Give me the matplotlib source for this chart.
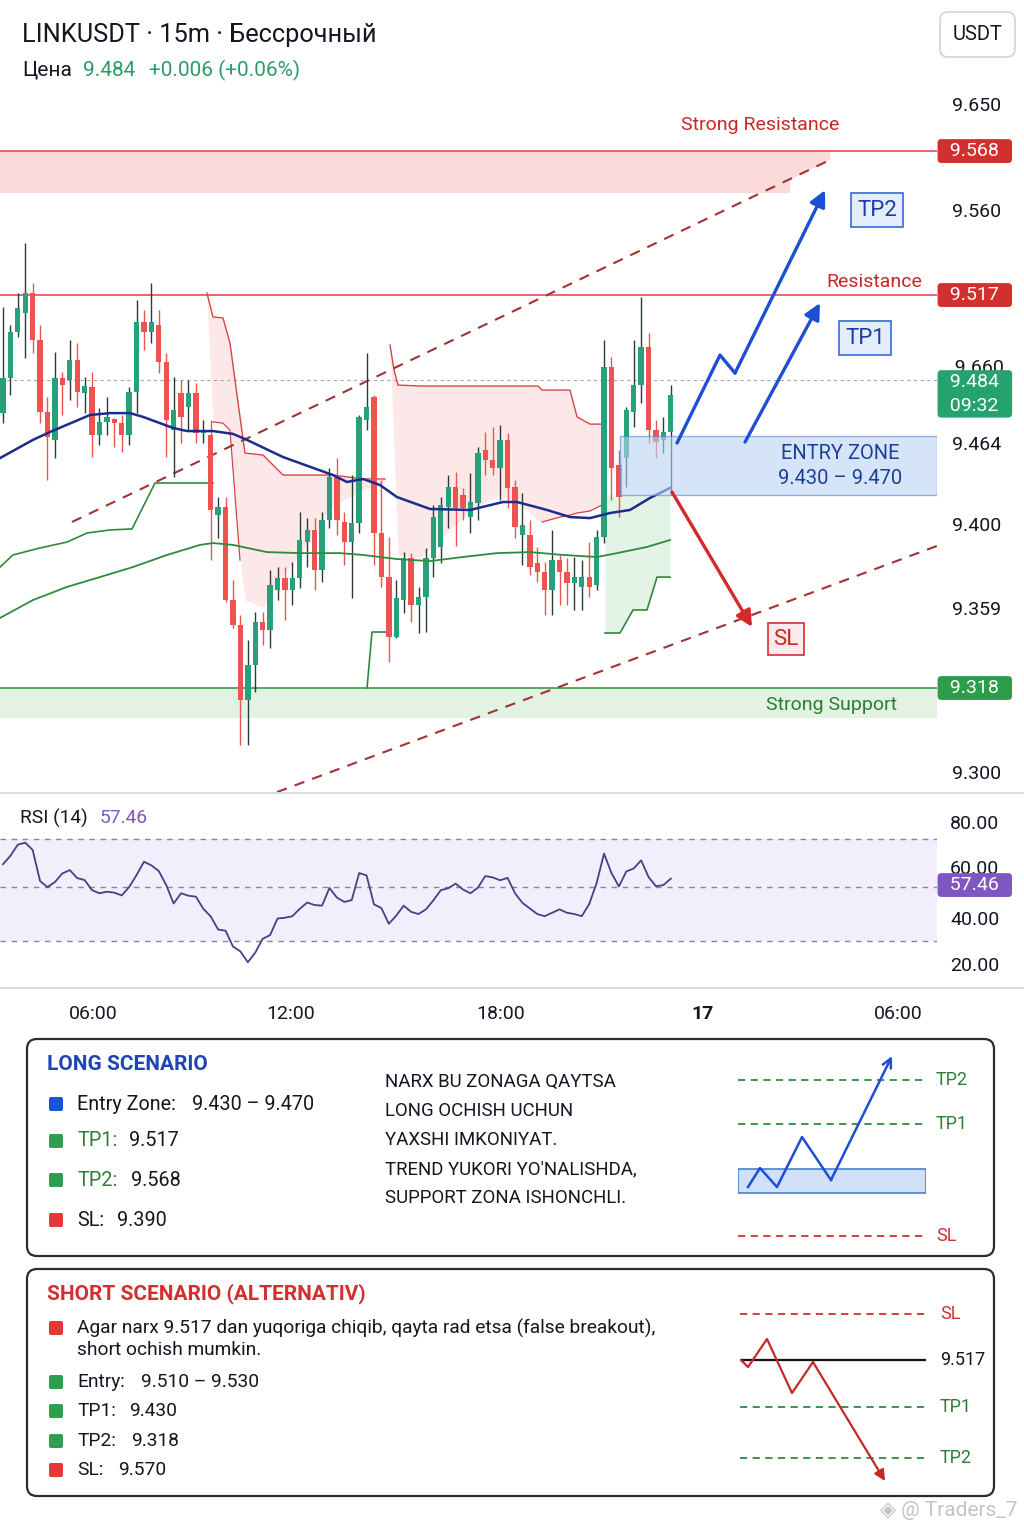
import numpy as np
import matplotlib
matplotlib.use("Agg")
import matplotlib.pyplot as plt
from matplotlib.patches import Rectangle, FancyBboxPatch

plt.rcParams['font.family'] = ['Roboto', 'DejaVu Sans']

# ---------------- data ----------------
# 15m candles, one per bar index
OPEN = [9.4735, 9.4848, 9.5026, 9.5100, 9.5180, 9.4995, 9.4738, 9.4650, 9.4848, 9.4840,
        9.4918, 9.4799, 9.4818, 9.4665, 9.4707, 9.4716, 9.4703, 9.4665, 9.4802, 9.5065,
        9.5026, 9.5054, 9.4910, 9.4681, 9.4799, 9.4754, 9.4799, 9.4672, 9.4665, 9.4071,
        9.4134, 9.3629, 9.3503, 9.3154, 9.3298, 9.3518, 9.3477, 9.3678, 9.3736, 9.3678,
        9.3736, 9.3912, 9.3971, 9.3776, 9.4032, 9.4371, 9.4016, 9.3912, 9.4008, 9.4713,
        9.4786, 9.3956, 9.3741, 9.3441, 9.3629, 9.3834, 9.3605, 9.3644, 9.3834, 9.3888,
        9.4134, 9.4292, 9.4229, 9.4055, 9.4166, 9.4585, 9.4506, 9.4443, 9.4650, 9.4292,
        9.3946, 9.3946, 9.3810, 9.3766, 9.3678, 9.3824, 9.3766, 9.3712, 9.3693, 9.3741,
        9.3702, 9.3937, 9.4891, 9.4466, 9.4521, 9.4738, 9.4824, 9.4968, 9.4681, 9.4650,
        9.4675]
HIGH = [9.5123, 9.5054, 9.5180, 9.5433, 9.5231, 9.5054, 9.4786, 9.4949, 9.4871, 9.4995,
        9.4984, 9.4852, 9.4871, 9.4751, 9.4786, 9.4719, 9.4729, 9.4818, 9.5151, 9.5112,
        9.5231, 9.5112, 9.4945, 9.4852, 9.4840, 9.4840, 9.4830, 9.4713, 9.4713, 9.4213,
        9.4213, 9.3727, 9.3554, 9.3426, 9.3570, 9.3570, 9.3776, 9.3790, 9.3790, 9.3815,
        9.4095, 9.4047, 9.4047, 9.4095, 9.4443, 9.4521, 9.4095, 9.4387, 9.4729, 9.4945,
        9.4792, 9.4348, 9.3937, 9.3727, 9.3863, 9.3858, 9.3693, 9.3883, 9.4150, 9.4213,
        9.4387, 9.4411, 9.4285, 9.4403, 9.4608, 9.4675, 9.4691, 9.4697, 9.4672, 9.4348,
        9.4245, 9.4032, 9.3888, 9.3815, 9.3971, 9.3849, 9.3834, 9.3839, 9.3824, 9.3912,
        9.3971, 9.4995, 9.4929, 9.4585, 9.4754, 9.4995, 9.5162, 9.5023, 9.4713, 9.4723,
        9.4824]
LOW = [9.4703, 9.4792, 9.5007, 9.4926, 9.4945, 9.4703, 9.4348, 9.4521, 9.4729, 9.4777,
       9.4754, 9.4735, 9.4529, 9.4624, 9.4665, 9.4608, 9.4569, 9.4624, 9.4735, 9.4957,
       9.4984, 9.4867, 9.4529, 9.4371, 9.4640, 9.4681, 9.4640, 9.4640, 9.3824, 9.3932,
       9.3619, 9.3487, 9.3058, 9.3058, 9.3171, 9.3400, 9.3385, 9.3629, 9.3529, 9.3605,
       9.3688, 9.3790, 9.3678, 9.3717, 9.3980, 9.3946, 9.3800, 9.3639, 9.3956, 9.4681,
       9.3800, 9.3693, 9.3313, 9.3436, 9.3564, 9.3518, 9.3462, 9.3467, 9.3741, 9.3810,
       9.3980, 9.3893, 9.4032, 9.3956, 9.4032, 9.4387, 9.4387, 9.4190, 9.4127, 9.3932,
       9.3800, 9.3751, 9.3717, 9.3554, 9.3554, 9.3605, 9.3605, 9.3580, 9.3580, 9.3644,
       9.3678, 9.3907, 9.4190, 9.4055, 9.4292, 9.4691, 9.4767, 9.4640, 9.4521, 9.4561,
       9.4229]
CLOSE = [9.4848, 9.5026, 9.5120, 9.5180, 9.4995, 9.4738, 9.4659, 9.4848, 9.4824, 9.4918,
         9.4802, 9.4821, 9.4665, 9.4707, 9.4723, 9.4703, 9.4665, 9.4802, 9.5065, 9.5026,
         9.5065, 9.4910, 9.4713, 9.4745, 9.4723, 9.4799, 9.4672, 9.4681, 9.4111, 9.4134,
         9.3629, 9.3503, 9.3154, 9.3298, 9.3518, 9.3477, 9.3702, 9.3736, 9.3678, 9.3736,
         9.3922, 9.3971, 9.3776, 9.4032, 9.4371, 9.4032, 9.3912, 9.4008, 9.4723, 9.4754,
         9.3956, 9.3741, 9.3441, 9.3639, 9.3834, 9.3605, 9.3644, 9.3834, 9.4055, 9.4150,
         9.4292, 9.4127, 9.4127, 9.4174, 9.4561, 9.4506, 9.4443, 9.4650, 9.4285, 9.3985,
         9.3995, 9.3790, 9.3766, 9.3678, 9.3824, 9.3766, 9.3712, 9.3741, 9.3741, 9.3693,
         9.3937, 9.4891, 9.4443, 9.4213, 9.4745, 9.4824, 9.4968, 9.4681, 9.4643, 9.4675,
         9.4792]

RSI = [61.0, 64.0, 68.0, 68.7, 66.1, 53.0, 50.0, 52.5, 56.8, 58.5,
       54.5, 53.5, 49.0, 48.0, 48.5, 48.2, 47.3, 50.0, 56.0, 61.9,
       60.6, 58.0, 51.0, 44.7, 48.0, 47.2, 46.9, 43.0, 40.5, 35.0,
       34.5, 27.6, 25.5, 20.8, 25.0, 31.0, 32.6, 39.8, 40.1, 40.6,
       43.0, 45.0, 44.2, 44.0, 49.7, 46.6, 45.2, 45.8, 57.0, 55.8,
       44.4, 43.2, 37.5, 40.8, 44.0, 42.0, 41.3, 42.8, 45.7, 49.0,
       49.6, 51.7, 49.2, 48.0, 49.8, 55.5, 54.8, 53.4, 54.6, 48.0,
       44.9, 43.1, 41.3, 40.6, 41.7, 42.8, 41.7, 41.3, 40.6, 44.5,
       52.0, 64.8, 57.0, 50.3, 57.8, 59.3, 62.4, 55.0, 50.4, 51.0,
       54.2]
RSI_LAST = 57.46

# moving averages / bands: (bar index, price)
MA_BLUE_X = [-0.4, 4.04, 6.33, 11.73, 14.42, 17.12, 18.87, 22.91, 24.80, 28.30, 31.00, 32.88,
             37.74, 44.47, 46.36, 48.52, 50.81, 53.10, 57.55, 62.94, 67.39, 69.27, 73.32,
             76.42, 79.11, 81.81, 84.50, 87.20, 89.89]
MA_BLUE = [9.4521, 9.4650, 9.4675, 9.4729, 9.4735, 9.4735, 9.4723, 9.4688, 9.4678, 9.4678,
           9.4669, 9.4650, 9.4529, 9.4387, 9.4332, 9.4356, 9.4308, 9.4213, 9.4119, 9.4111,
           9.4174, 9.4174, 9.4111, 9.4055, 9.4047, 9.4087, 9.4111, 9.4206, 9.4285]
MA_GREEN_X = [-0.4, 4.04, 8.63, 13.07, 17.52, 22.10, 26.55, 28.30, 31.00, 35.58, 40.03, 45.42,
              48.52, 53.10, 57.55, 61.99, 66.58, 71.02, 75.47, 80.05, 82.21, 86.79, 89.89]
MA_GREEN = [9.3539, 9.3629, 9.3693, 9.3741, 9.3790, 9.3849, 9.3898, 9.3907, 9.3898, 9.3863,
            9.3858, 9.3858, 9.3849, 9.3829, 9.3819, 9.3839, 9.3858, 9.3863, 9.3849, 9.3839,
            9.3854, 9.3888, 9.3922]

ST_GREEN_1_X = [-0.4, 1.35, 4.99, 8.63, 11.32, 14.42, 17.39, 20.49, 28.30]
ST_GREEN_1 = [9.3790, 9.3849, 9.3883, 9.3912, 9.3956, 9.3971, 9.3976, 9.4324, 9.4324]
ST_GREEN_2_X = [49.06, 49.73, 51.75]
ST_GREEN_2 = [9.3180, 9.3467, 9.3467]
ST_GREEN_3_X = [81.13, 83.15, 84.91, 86.79, 88.14, 89.89]
ST_GREEN_3 = [9.3462, 9.3462, 9.3580, 9.3580, 9.3741, 9.3741]
ST_GREEN_3_TOP = 9.4229

ST_RED_1_X = [27.49, 28.30, 29.65, 30.59, 31.94, 32.61, 35.04, 37.74, 40.03, 44.47, 48.52, 51.48]
ST_RED_1 = [9.5180, 9.5085, 9.5081, 9.4984, 9.4723, 9.4561, 9.4545, 9.4387, 9.4387, 9.4387,
            9.4356, 9.4356]
ST_RED_1_LOW = [9.5151, 9.4707, 9.4703, 9.4681, 9.3824, 9.3629, 9.3595, 9.3751, 9.3849,
                9.4150, 9.4269, 9.4332]
ST_RED_2_X = [52.16, 52.70, 53.23, 56.20, 58.89, 61.59, 64.29, 66.98, 69.68, 72.10, 72.64,
              75.07, 76.42, 77.36, 79.11, 80.73]
ST_RED_2 = [9.4976, 9.4879, 9.4824, 9.4821, 9.4821, 9.4821, 9.4821, 9.4821, 9.4821, 9.4821,
            9.4808, 9.4808, 9.4808, 9.4723, 9.4700, 9.4700]
ST_RED_2_LOW = [9.4957, 9.4585, 9.3849, 9.3834, 9.3922, 9.4032, 9.4150, 9.4229, 9.4150,
                9.4032, 9.4016, 9.4055, 9.4071, 9.4087, 9.4103, 9.4150]

# levels and drawings
STRONG_RES = 9.568
STRONG_RES_LOW = 9.5623
RESISTANCE = 9.517
SUPPORT = 9.318
SUPPORT_LOW = 9.3116
LAST_PRICE = 9.484
ENTRY_LOW, ENTRY_HIGH = 9.4229, 9.4662
ENTRY_START = 83.15
STRONG_RES_END = [111.46, 106.07]
STRONG_RES_EDGE = [9.5668, 9.5641]
UPPER_CH_X, UPPER_CH_Y = [9.30, 111.46], [9.4016, 9.5668]
LOWER_CH_X, LOWER_CH_Y = [36.93, 125.87], [9.2957, 9.3893]
TP2_ARROW_X, TP2_ARROW_Y = [90.84, 96.63, 98.65, 110.78], [9.464, 9.4937, 9.4867, 9.5627]
TP1_ARROW_X, TP1_ARROW_Y = [100.0, 110.1], [9.4643, 9.5139]
SL_ARROW_X, SL_ARROW_Y = [90.16, 100.94], [9.4253, 9.3493]

PLAIN_TICKS = [9.300, 9.359, 9.400, 9.464, 9.560, 9.650]
TIME_TICKS = [12.1, 38.8, 67.1, 94.3, 120.6]
TIME_LABELS = ['06:00', '12:00', '18:00', '17', '06:00']
RSI_TICKS = [80, 60, 40, 20]

# the reference price / rsi scales are not linear: value -> row in the picture
PRICE_LEVELS = [9.300, 9.318, 9.359, 9.400, 9.464, 9.484, 9.517, 9.560, 9.568, 9.650]
PRICE_ROWS = [772, 688, 608, 524, 443, 380, 295, 210, 151, 104]
RSI_LEVELS = [20, 30, 40, 50, 60, 70, 80]
RSI_ROWS = [964, 941, 918, 887, 867, 839, 822]

# scenario sketches
LONG_LEVELS = [9.390, 9.430, 9.470, 9.517, 9.568]
LONG_ROWS = [1236, 1193, 1169, 1124, 1080]
LONG_PATH_X = [1.0, 2.2, 3.9, 6.4, 9.3, 15.4]
LONG_PATH_Y = [9.440, 9.471, 9.440, 9.5034, 9.4517, 9.5958]
SHORT_LEVELS = [9.318, 9.430, 9.517, 9.570]
SHORT_ROWS = [1458, 1407, 1360, 1314]
SHORT_PATH_X = [0.1, 0.8, 2.7, 5.2, 7.3, 14.5]
SHORT_PATH_Y = [9.517, 9.504, 9.5412, 9.4559, 9.5133, 9.2675]

GREEN = '#26a17b'
RED = '#ef5350'
LINE_RED = '#e0403d'
DARK = '#131722'
BLUE = '#1d4fd6'

W, H = 1024, 1536
fig = plt.figure(figsize=(W / 100, H / 100), dpi=100)


def px_axes(x0, y0, x1, y1):
    return fig.add_axes([x0 / W, 1 - y1 / H, (x1 - x0) / W, (y1 - y0) / H])


def knot_scale(levels, rows):
    lv = np.asarray(levels, float)
    rw = -np.asarray(rows, float)
    s0 = (rw[1] - rw[0]) / (lv[1] - lv[0])
    s1 = (rw[-1] - rw[-2]) / (lv[-1] - lv[-2])
    lv = np.r_[lv[0] - 50, lv, lv[-1] + 50]
    rw = np.r_[rw[0] - 50 * s0, rw, rw[-1] + 50 * s1]
    return (lambda v: np.interp(v, lv, rw)), (lambda r: np.interp(r, rw, lv))


def bare(a):
    for s in a.spines.values():
        s.set_visible(False)


# ---------------- price panel ----------------
ax = px_axes(0, 88, 937, 793)
ax.set_yscale('function', functions=knot_scale(PRICE_LEVELS, PRICE_ROWS))
ax.set_xlim(-0.4, 125.87)
ax.set_ylim(9.2955, 9.678)
bare(ax)
ax.set_xticks([])
ax.yaxis.tick_right()
ax.set_yticks(PLAIN_TICKS, [f'{v:.3f}' for v in PLAIN_TICKS])
ax.tick_params(axis='y', length=0, pad=11, labelsize=14, labelcolor=DARK)

# zones
ax.fill([-0.4, STRONG_RES_END[0], STRONG_RES_END[0], STRONG_RES_END[1], STRONG_RES_END[1], -0.4],
        [STRONG_RES, STRONG_RES, STRONG_RES_EDGE[0], STRONG_RES_EDGE[1], STRONG_RES_LOW, STRONG_RES_LOW],
        color='#fcdada', lw=0, zorder=0.5)
ax.axhspan(SUPPORT_LOW, SUPPORT, color='#e2f3e4', lw=0, zorder=0.5)
ax.fill_between(ST_RED_1_X, ST_RED_1_LOW, ST_RED_1, color='#fbd9d9', alpha=0.6, lw=0, zorder=0.6)
ax.fill_between(ST_RED_2_X, ST_RED_2_LOW, ST_RED_2, color='#fbd9d9', alpha=0.6, lw=0, zorder=0.6)
ax.fill_between(ST_GREEN_3_X, ST_GREEN_3, ST_GREEN_3_TOP, color='#dcf1df', alpha=0.8, lw=0, zorder=0.6)

ax.axhline(STRONG_RES, color=LINE_RED, lw=1.1, zorder=1)
ax.axhline(RESISTANCE, color=LINE_RED, lw=1.1, zorder=1)
ax.axhline(SUPPORT, color='#3b9a4c', lw=1.2, zorder=1)
ax.axhline(LAST_PRICE, color='#a3a8b3', lw=0.8, ls=(0, (3, 3)), zorder=1)

# bands
ax.plot(ST_RED_1_X, ST_RED_1, color='#d64545', lw=1.0, zorder=2)
ax.plot(ST_RED_1_X[1:5], ST_RED_1_LOW[1:5], color='#d64545', lw=0.9, zorder=2)
ax.plot(ST_RED_2_X, ST_RED_2, color='#d64545', lw=1.0, zorder=2)
ax.plot(ST_RED_2_X[-6:], ST_RED_2_LOW[-6:], color='#d64545', lw=0.9, zorder=2)
for gx, gy in ((ST_GREEN_1_X, ST_GREEN_1), (ST_GREEN_2_X, ST_GREEN_2), (ST_GREEN_3_X, ST_GREEN_3)):
    ax.plot(gx, gy, color='#2f8a3c', lw=1.2, zorder=2)

# channel
ax.plot(UPPER_CH_X, UPPER_CH_Y, color='#a33232', lw=1.5, ls=(0, (5, 4)), zorder=2)
ax.plot(LOWER_CH_X, LOWER_CH_Y, color='#a33232', lw=1.5, ls=(0, (5, 4)), zorder=2)

# candles
idx = np.arange(len(OPEN))
o, hi, lo, c = (np.asarray(a) for a in (OPEN, HIGH, LOW, CLOSE))
up = c >= o
ax.vlines(idx[up], lo[up], hi[up], color='#2c3a38', lw=1.0, zorder=3)
ax.vlines(idx[~up], lo[~up], hi[~up], color=RED, lw=1.0, zorder=3)
ax.bar(idx, np.maximum(np.abs(c - o), 0.0005), bottom=np.minimum(o, c), width=0.72,
       color=np.where(up, GREEN, RED), zorder=3.5)

ax.plot(MA_GREEN_X, MA_GREEN, color='#2f8a3c', lw=1.3, zorder=4)
ax.plot(MA_BLUE_X, MA_BLUE, color='#1c2c8c', lw=1.8, zorder=4)

# entry zone
ax.add_patch(Rectangle((ENTRY_START, ENTRY_LOW), 125.87 - ENTRY_START, ENTRY_HIGH - ENTRY_LOW,
                       fc='#bcd2f3', ec='#5585d6', lw=1.0, alpha=0.6, zorder=4.5))
ax.text(112.8, 9.4458, 'ENTRY ZONE\n9.430 – 9.470', ha='center', va='center', fontsize=14.5,
        color='#1b3f99', linespacing=1.4, zorder=6)

# arrows
ax.plot(TP2_ARROW_X[:-1], TP2_ARROW_Y[:-1], color=BLUE, lw=2.4, zorder=6, solid_capstyle='round')
arrow_kw = dict(arrowstyle='-|>', lw=2.4, mutation_scale=24, shrinkA=0, shrinkB=0)
ax.annotate('', xy=(TP2_ARROW_X[-1], TP2_ARROW_Y[-1]), xytext=(TP2_ARROW_X[-2], TP2_ARROW_Y[-2]),
            arrowprops=dict(color=BLUE, **arrow_kw), zorder=6)
ax.annotate('', xy=(TP1_ARROW_X[1], TP1_ARROW_Y[1]), xytext=(TP1_ARROW_X[0], TP1_ARROW_Y[0]),
            arrowprops=dict(color=BLUE, **arrow_kw), zorder=6)
ax.annotate('', xy=(SL_ARROW_X[1], SL_ARROW_Y[1]), xytext=(SL_ARROW_X[0], SL_ARROW_Y[0]),
            arrowprops=dict(color='#d62828', **arrow_kw), zorder=6)

box_blue = dict(boxstyle='square,pad=0.28', fc='#e4edfb', ec='#3a6bd1', lw=1.2)
ax.text(117.8, 9.560, 'TP2', ha='center', va='center', fontsize=16, color='#1b3f9e', bbox=box_blue, zorder=7)
ax.text(116.2, 9.5003, 'TP1', ha='center', va='center', fontsize=16, color='#1b3f9e', bbox=box_blue, zorder=7)
ax.text(105.5, 9.3431, 'SL', ha='center', va='center', fontsize=16, color='#c62828',
        bbox=dict(boxstyle='square,pad=0.25', fc='#fdeaea', ec='#d32f2f', lw=1.2), zorder=7)

ax.text(102.0, 9.6134, 'Strong Resistance', ha='center', va='center', fontsize=14, color='#c62828')
ax.text(117.4, 9.5236, 'Resistance', ha='center', va='center', fontsize=14, color='#c62828')
ax.text(111.6, 9.3144, 'Strong Support', ha='center', va='center', fontsize=14, color='#2e7d32')

TAG_BOX = dict(boxstyle='round,pad=0.15,rounding_size=0.2', ec='none')


def price_tag(a, y, text, fc, dy=0.0, va='center', color='white', box=True, z=10, ls=1.2):
    a.annotate(text, xy=(1, y), xycoords=('axes fraction', 'data'), xytext=(2.5, dy),
               textcoords='offset points', ha='left', va=va, color=color, fontsize=14,
               linespacing=ls, bbox=dict(fc=fc, **TAG_BOX) if box else None,
               annotation_clip=False, zorder=z)


price_tag(ax, STRONG_RES, '  9.568  ', '#d32f2f')
price_tag(ax, RESISTANCE, '  9.517  ', '#d32f2f')
price_tag(ax, SUPPORT, '  9.318  ', '#2e9d4a')
# the reference shows a stray "9.660" half hidden behind the last-price tag
price_tag(ax, LAST_PRICE, '   9.660', 'none', dy=8.5, color=DARK, box=False, z=8)
price_tag(ax, LAST_PRICE, '  9.484  \n  09:32  ', '#25a36f', dy=5, va='top', ls=1.4)

# ---------------- RSI panel ----------------
rx = px_axes(0, 795, 937, 988)
rx.set_yscale('function', functions=knot_scale(RSI_LEVELS, RSI_ROWS))
rx.set_xlim(-0.4, 125.87)
rx.set_ylim(9.6, 95.9)
bare(rx)
rx.axhspan(30, 70, color='#f3eefb', lw=0, zorder=0)
for v in (70, 50, 30):
    rx.axhline(v, color='#8a84a3', lw=1.0, ls=(0, (4, 4)), zorder=1)
rx.plot(idx, RSI, color='#4a3f86', lw=1.3, zorder=3)
rx.yaxis.tick_right()
rx.set_yticks(RSI_TICKS, [f'{v:.2f}' for v in RSI_TICKS])
rx.tick_params(axis='y', length=0, pad=9.5, labelsize=14, labelcolor=DARK)
rx.set_xticks(TIME_TICKS, TIME_LABELS)
rx.tick_params(axis='x', length=0, pad=12, labelsize=14, labelcolor=DARK)
rx.get_xticklabels()[3].set_fontweight('bold')
price_tag(rx, 51, '  57.46  ', '#7e57c2')

# ---------------- overlay (header, boxes) ----------------
ov = fig.add_axes([0, 0, 1, 1])
ov.set_xlim(0, W)
ov.set_ylim(H, 0)
ov.axis('off')

ov.text(22, 35, 'LINKUSDT · 15m · Бессрочный', fontsize=18.3, color=DARK, va='center')
ov.text(22, 70, 'Цена', fontsize=15, color=DARK, va='center')
ov.text(83, 70, '9.484', fontsize=15, color='#2a9d67', va='center')
ov.text(149, 70, '+0.006 (+0.06%)', fontsize=15, color='#2a9d67', va='center')
ov.add_patch(FancyBboxPatch((940, 12), 75, 45, boxstyle='round,pad=0,rounding_size=8',
                            fc='white', ec='#d1d4dc', lw=1.2))
ov.text(977.5, 35, 'USDT', fontsize=14.5, color=DARK, ha='center', va='center')

ov.hlines([793, 988], 0, W, color='#d9d9df', lw=1.3)
ov.text(20, 818, 'RSI (14)', fontsize=13.8, color=DARK, va='center')
ov.text(100, 818, f'{RSI_LAST:.2f}', fontsize=13.8, color='#7e57c2', va='center')

# long scenario box
ov.add_patch(FancyBboxPatch((27, 1039), 967, 217, boxstyle='round,pad=0,rounding_size=10',
                            fc='white', ec='#2b2b2b', lw=1.6))
ov.text(47, 1064, 'LONG SCENARIO', fontsize=15, color='#1f45b5', va='center', fontweight='semibold')
SQ_BLUE, SQ_GREEN, SQ_RED = '#1a56db', '#2e9e4f', '#e53935'


def bullet(y, col):
    ov.add_patch(FancyBboxPatch((49, y - 7), 14, 14, boxstyle='round,pad=0,rounding_size=2',
                                fc=col, ec='none'))


def row(y, label, value, vx, col, lcol=DARK, size=14.2):
    bullet(y, col)
    ov.text(77, y, label, fontsize=size, color=lcol, va='center')
    if value:
        ov.text(vx, y, value, fontsize=size, color=DARK, va='center')


row(1104, 'Entry Zone:', '9.430 – 9.470', 192, SQ_BLUE)
row(1141, 'TP1:', '9.517', 129, SQ_GREEN, '#2e7d32')
row(1180, 'TP2:', '9.568', 131, SQ_GREEN, '#2e7d32')
row(1220, 'SL:', '9.390', 117, SQ_RED)
for k, line in enumerate(['NARX BU ZONAGA QAYTSA', 'LONG OCHISH UCHUN', 'YAXSHI IMKONIYAT.',
                          "TREND YUKORI YO'NALISHDA,", 'SUPPORT ZONA ISHONCHLI.']):
    ov.text(385, 1082 + 29 * k, line, fontsize=13.4, color=DARK, va='center')

# short scenario box
ov.add_patch(FancyBboxPatch((27, 1269), 967, 227, boxstyle='round,pad=0,rounding_size=10',
                            fc='white', ec='#2b2b2b', lw=1.6))
ov.text(47, 1294, 'SHORT SCENARIO (ALTERNATIV)', fontsize=15, color='#d32f2f', va='center',
        fontweight='semibold')
row(1328, 'Agar narx 9.517 dan yuqoriga chiqib, qayta rad etsa (false breakout),', None, 0, SQ_RED,
    size=13.8)
ov.text(77, 1350, 'short ochish mumkin.', fontsize=13.8, color=DARK, va='center')
row(1382, 'Entry:', '9.510 – 9.530', 141, SQ_GREEN, size=13.8)
row(1411, 'TP1:', '9.430', 129, SQ_GREEN, size=13.8)
row(1441, 'TP2:', '9.318', 131, SQ_GREEN, size=13.8)
row(1470, 'SL:', '9.570', 118, SQ_RED, size=13.8)

# long sketch
lx = px_axes(738, 1045, 926, 1250)
lx.set_yscale('function', functions=knot_scale(LONG_LEVELS, LONG_ROWS))
lx.set_xlim(0, 18.8)
lx.set_ylim(9.377, 9.6086)
lx.axis('off')
dash = (0, (4, 3))
lx.hlines([LONG_LEVELS[4], LONG_LEVELS[3]], 0, 18.8, color='#2e8b3e', lw=1.3, ls=dash)
lx.hlines(LONG_LEVELS[0], 0, 18.8, color='#d32f2f', lw=1.3, ls=dash)
lx.add_patch(Rectangle((0, LONG_LEVELS[1]), 18.8, LONG_LEVELS[2] - LONG_LEVELS[1],
                       fc='#cfe0f7', ec='#4a7fd4', lw=1.2))
lx.plot(LONG_PATH_X[:-1], LONG_PATH_Y[:-1], color=BLUE, lw=1.8)
lx.annotate('', xy=(LONG_PATH_X[-1], LONG_PATH_Y[-1]), xytext=(LONG_PATH_X[-2], LONG_PATH_Y[-2]),
            arrowprops=dict(arrowstyle='->', color=BLUE, lw=1.8, mutation_scale=16, shrinkA=0, shrinkB=0),
            annotation_clip=False)
for lvl, name, col in ((LONG_LEVELS[4], 'TP2', '#2e7d32'), (LONG_LEVELS[3], 'TP1', '#2e7d32'),
                       (LONG_LEVELS[0], 'SL', '#d32f2f')):
    lx.text(19.8, lvl, name, color=col, fontsize=13, va='center', clip_on=False)

# short sketch
sx = px_axes(740, 1290, 926, 1490)
sx.set_yscale('function', functions=knot_scale(SHORT_LEVELS, SHORT_ROWS))
sx.set_xlim(0, 18.6)
sx.set_ylim(9.2477, 9.5977)
sx.axis('off')
sx.hlines(SHORT_LEVELS[3], 0, 18.6, color='#d32f2f', lw=1.3, ls=dash)
sx.hlines(SHORT_LEVELS[2], 0, 18.6, color='#111111', lw=1.6)
sx.hlines([SHORT_LEVELS[1], SHORT_LEVELS[0]], 0, 18.6, color='#2e8b3e', lw=1.3, ls=dash)
sx.plot(SHORT_PATH_X[:-1], SHORT_PATH_Y[:-1], color='#c62828', lw=1.6)
sx.annotate('', xy=(SHORT_PATH_X[-1], SHORT_PATH_Y[-1]), xytext=(SHORT_PATH_X[-2], SHORT_PATH_Y[-2]),
            arrowprops=dict(arrowstyle='-|>', color='#c62828', lw=1.6, mutation_scale=16, shrinkA=0, shrinkB=0),
            annotation_clip=False)
for lvl, name, col in ((SHORT_LEVELS[3], 'SL', '#d32f2f'), (SHORT_LEVELS[2], '9.517', DARK),
                       (SHORT_LEVELS[1], 'TP1', '#2e7d32'), (SHORT_LEVELS[0], 'TP2', '#2e7d32')):
    sx.text(20.0, lvl, name, color=col, fontsize=13, va='center', clip_on=False)

ov.text(1018, 1510, '◈ @ Traders_7', fontsize=15, color='#c4c4c4', ha='right', va='center')

fig.savefig('out.png', dpi=100)
